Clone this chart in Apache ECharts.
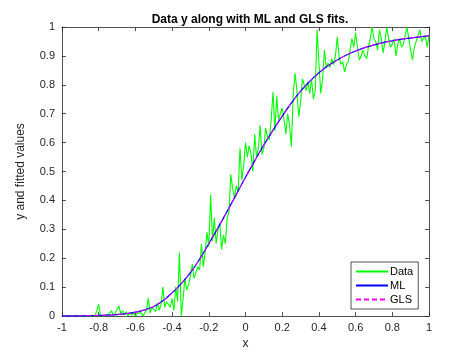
<!DOCTYPE html>
<html>
<head>
<meta charset="utf-8">
<script src="https://cdn.jsdelivr.net/npm/echarts@6/dist/echarts.min.js"></script>
<style>html,body{margin:0;padding:0;background:#fff;}#c{width:474px;height:355px;}</style>
</head>
<body>
<div id="c"></div>
<script>
// Data y sampled at x = -1 : 0.01 : 1 (201 points)
const dataX0 = -1, dataStep = 0.01;
const dataY = [
 0,0,0,0,0,0,0,0,0,0, 0,0,0,0,0,0,0,0,0,0,
 0.04,0,0,0,0,0.005,0,0.018,0,0.01,
 0.005,0.035,0.008,0.018,0.004,0.015,0,0.012,0.003,0.01,
 0,0.008,0.004,0.012,0,0.01,0.02,0.062,0.01,0.03,
 0.025,0.015,0.045,0.02,0.04,0.10,0.03,0.05,0.04,0.03,
 0.06,0.02,0.10,0.05,0.22,0.0,0.06,0.13,0.09,0.11,
 0.14,0.18,0.13,0.15,0.17,0.16,0.25,0.17,0.22,0.29,
 0.24,0.42,0.26,0.34,0.25,0.30,0.32,0.23,0.28,0.25,
 0.34,0.36,0.49,0.44,0.41,0.45,0.43,0.58,0.47,0.52,
 0.60,0.55,0.59,0.56,0.50,0.63,0.55,0.58,0.66,0.56,
 0.58,0.65,0.62,0.61,0.68,0.775,0.64,0.76,0.68,0.70,
 0.72,0.68,0.63,0.70,0.66,0.585,0.765,0.84,0.78,0.69,
 0.74,0.82,0.80,0.78,0.81,0.77,0.82,0.75,0.78,0.99,
 0.88,0.77,0.82,0.92,0.86,0.875,0.86,0.89,0.87,0.90,
 0.965,0.90,0.87,0.88,0.845,0.87,0.88,0.92,0.96,0.93,
 0.98,0.93,0.886,0.90,0.92,0.90,0.89,0.93,0.96,1.0,
 0.96,0.95,0.92,0.99,0.96,0.91,0.95,1.0,0.96,0.93,
 0.94,0.96,0.90,0.94,0.96,0.93,0.94,0.97,1.0,0.96,
 0.92,0.886,0.93,0.95,0.97,0.99,0.95,0.96,0.97,0.93,
 0.97
];
// Fitted curves sampled at x = -1 : 0.05 : 1
const fitX = [-1,-0.95,-0.9,-0.85,-0.8,-0.75,-0.7,-0.65,-0.6,-0.55,-0.5,-0.45,-0.4,-0.35,-0.3,-0.25,-0.2,-0.15,-0.1,-0.05,0,0.05,0.1,0.15,0.2,0.25,0.3,0.35,0.4,0.45,0.5,0.55,0.6,0.65,0.7,0.75,0.8,0.85,0.9,0.95,1];
const mlY = [0,0,0,0.001,0.002,0.003,0.005,0.008,0.013,0.021,0.033,0.053,0.080,0.112,0.150,0.197,0.250,0.305,0.362,0.421,0.480,0.537,0.592,0.643,0.692,0.737,0.778,0.812,0.842,0.866,0.886,0.903,0.917,0.929,0.938,0.946,0.952,0.958,0.962,0.966,0.969];
const glsY = [0,0,0,0.001,0.002,0.003,0.005,0.008,0.013,0.021,0.033,0.053,0.080,0.112,0.150,0.197,0.250,0.305,0.362,0.421,0.480,0.537,0.592,0.643,0.692,0.737,0.778,0.812,0.842,0.866,0.886,0.903,0.917,0.929,0.938,0.946,0.952,0.958,0.962,0.966,0.969];
const seriesNames = ['Data','ML','GLS'];
const titleText = 'Data y along with ML and GLS fits.';
const xLabel = 'x', yLabel = 'y and fitted values';

const dataPts = dataY.map((v,i)=>[+(dataX0 + i*dataStep).toFixed(2), v]);
const mlPts = fitX.map((x,i)=>[x, mlY[i]]);
const glsPts = fitX.map((x,i)=>[x, glsY[i]]);

const axisColor = '#262626';
const font = 'Liberation Sans, Arial, Helvetica, sans-serif';
const fmt = v => String(+v.toFixed(2));

const chart = echarts.init(document.getElementById('c'), null, {renderer:'canvas'});
chart.setOption({
  animation:false,
  backgroundColor:'#ffffff',
  title:{text:titleText,left:245,textAlign:'center',top:9,
    textStyle:{fontFamily:font,fontSize:12,fontWeight:'bold',color:'#000'}},
  grid:{left:62,right:45,top:27,bottom:39,show:false},
  legend:{orient:'vertical',left:351,top:262,itemWidth:32,itemHeight:10,itemGap:3,
    padding:[4,5,4,4],borderColor:axisColor,borderWidth:0.8,backgroundColor:'#fff',
    itemStyle:{opacity:0},
    textStyle:{fontFamily:font,fontSize:11,color:'#000',padding:[0,0,0,-3]},
    data:seriesNames},
  xAxis:[
    {type:'value',min:-1,max:1,interval:0.2,position:'bottom',
     name:xLabel,nameLocation:'middle',nameGap:22,
     nameTextStyle:{fontFamily:font,fontSize:12,color:axisColor},
     axisLine:{onZero:false,lineStyle:{color:axisColor,width:0.8}},
     axisTick:{inside:true,length:4,lineStyle:{color:axisColor,width:0.8}},
     axisLabel:{fontFamily:font,fontSize:11,color:axisColor,margin:6,formatter:fmt},
     splitLine:{show:false}},
    {type:'value',min:-1,max:1,interval:0.2,position:'top',
     axisLine:{onZero:false,lineStyle:{color:axisColor,width:0.8}},
     axisTick:{inside:true,length:4,lineStyle:{color:axisColor,width:0.8}},
     axisLabel:{show:false},splitLine:{show:false}}
  ],
  yAxis:[
    {type:'value',min:0,max:1,interval:0.1,position:'left',
     name:yLabel,nameLocation:'middle',nameGap:35,
     nameTextStyle:{fontFamily:font,fontSize:12,color:axisColor},
     axisLine:{show:true,onZero:false,lineStyle:{color:axisColor,width:0.8}},
     axisTick:{show:true,inside:true,length:4,lineStyle:{color:axisColor,width:0.8}},
     axisLabel:{fontFamily:font,fontSize:11,color:axisColor,margin:7,formatter:fmt},
     splitLine:{show:false}},
    {type:'value',min:0,max:1,interval:0.1,position:'right',
     axisLine:{show:true,onZero:false,lineStyle:{color:axisColor,width:0.8}},
     axisTick:{show:true,inside:true,length:4,lineStyle:{color:axisColor,width:0.8}},
     axisLabel:{show:false},splitLine:{show:false}}
  ],
  series:[
    {name:'Data',type:'line',data:dataPts,symbol:'none',clip:true,
     lineStyle:{color:'#00ff00',width:1.1},itemStyle:{color:'#00ff00'}},
    {name:'ML',type:'line',data:mlPts,symbol:'none',smooth:0.4,
     lineStyle:{color:'#0000ff',width:1.3},itemStyle:{color:'#0000ff'}},
    {name:'GLS',type:'line',data:glsPts,symbol:'none',smooth:0.4,
     lineStyle:{color:'#ff00ff',width:1,type:[5,3]},itemStyle:{color:'#ff00ff'}}
  ]
});
</script>
</body>
</html>
